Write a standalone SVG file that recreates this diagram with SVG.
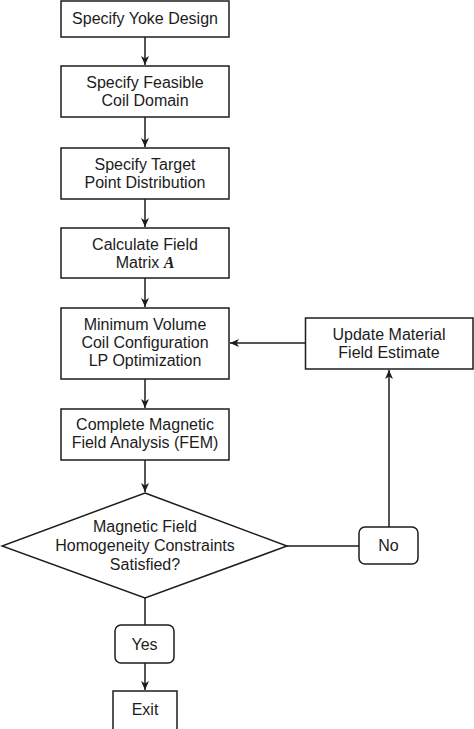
<svg xmlns="http://www.w3.org/2000/svg" width="474" height="729" viewBox="0 0 474 729">
<style>
.box{fill:#fff;stroke:#1c1c1c;stroke-width:1.5}
.ln{fill:none;stroke:#1c1c1c;stroke-width:1.5}
text{font-family:"Liberation Sans",Arial,sans-serif;font-size:16px;fill:#1c1c1c;text-anchor:middle}
.mat{font-family:"Liberation Serif","Times New Roman",serif;font-style:italic;font-weight:bold}
</style>
<defs>
<marker id="ah" markerUnits="userSpaceOnUse" markerWidth="10" markerHeight="8" refX="9" refY="4" orient="auto">
<path d="M0,0 L9,4 L0,8 L2.5,4 z" fill="#1c1c1c"/>
</marker>
</defs>
<rect x="0" y="0" width="474" height="729" fill="#fff"/>
<g id="connectors">
<line class="ln" x1="145" y1="37" x2="145" y2="65" marker-end="url(#ah)"/>
<line class="ln" x1="145" y1="117" x2="145" y2="147" marker-end="url(#ah)"/>
<line class="ln" x1="145" y1="199" x2="145" y2="227" marker-end="url(#ah)"/>
<line class="ln" x1="145" y1="278" x2="145" y2="307" marker-end="url(#ah)"/>
<line class="ln" x1="145" y1="379" x2="145" y2="408" marker-end="url(#ah)"/>
<line class="ln" x1="145" y1="460" x2="145" y2="492" marker-end="url(#ah)"/>
<line class="ln" x1="305" y1="343" x2="230" y2="343" marker-end="url(#ah)"/>
<line class="ln" x1="287" y1="546" x2="359" y2="546"/>
<line class="ln" x1="389" y1="527" x2="389" y2="370" marker-end="url(#ah)"/>
<line class="ln" x1="145" y1="598" x2="145" y2="625"/>
<line class="ln" x1="145" y1="663" x2="145" y2="690" marker-end="url(#ah)"/>
</g>
<g id="n1"><rect class="box" x="61" y="1" width="168" height="36"/><text x="145" y="24">Specify Yoke Design</text></g>
<g id="n2"><rect class="box" x="61" y="66" width="168" height="51"/><text x="145" y="88">Specify Feasible</text><text x="145" y="106">Coil Domain</text></g>
<g id="n3"><rect class="box" x="61" y="148" width="168" height="51"/><text x="145" y="170">Specify Target</text><text x="145" y="188">Point Distribution</text></g>
<g id="n4"><rect class="box" x="61" y="228" width="168" height="50"/><text x="145" y="250">Calculate Field</text><text x="145" y="268">Matrix <tspan class="mat">A</tspan></text></g>
<g id="n5"><rect class="box" x="61" y="308" width="168" height="71"/><text x="145" y="330">Minimum Volume</text><text x="145" y="348">Coil Configuration</text><text x="145" y="366">LP Optimization</text></g>
<g id="n6"><rect class="box" x="61" y="409" width="168" height="51"/><text x="145" y="430">Complete Magnetic</text><text x="145" y="448">Field Analysis (FEM)</text></g>
<g id="n7"><rect class="box" x="305.5" y="318" width="167.5" height="51"/><text x="389" y="340">Update Material</text><text x="389" y="358">Field Estimate</text></g>
<g id="n8"><polygon class="box" points="145,493 287,546 145,598 2,546"/><text x="145" y="532">Magnetic Field</text><text x="145" y="551">Homogeneity Constraints</text><text x="145" y="570">Satisfied?</text></g>
<g id="n9"><rect class="box" x="359" y="527" width="59" height="37" rx="6"/><text x="388.5" y="551">No</text></g>
<g id="n10"><rect class="box" x="115" y="625" width="59" height="38" rx="6"/><text x="144.5" y="650">Yes</text></g>
<g id="n11"><rect class="box" x="113" y="691" width="64" height="40"/><text x="145" y="715">Exit</text></g>
</svg>
